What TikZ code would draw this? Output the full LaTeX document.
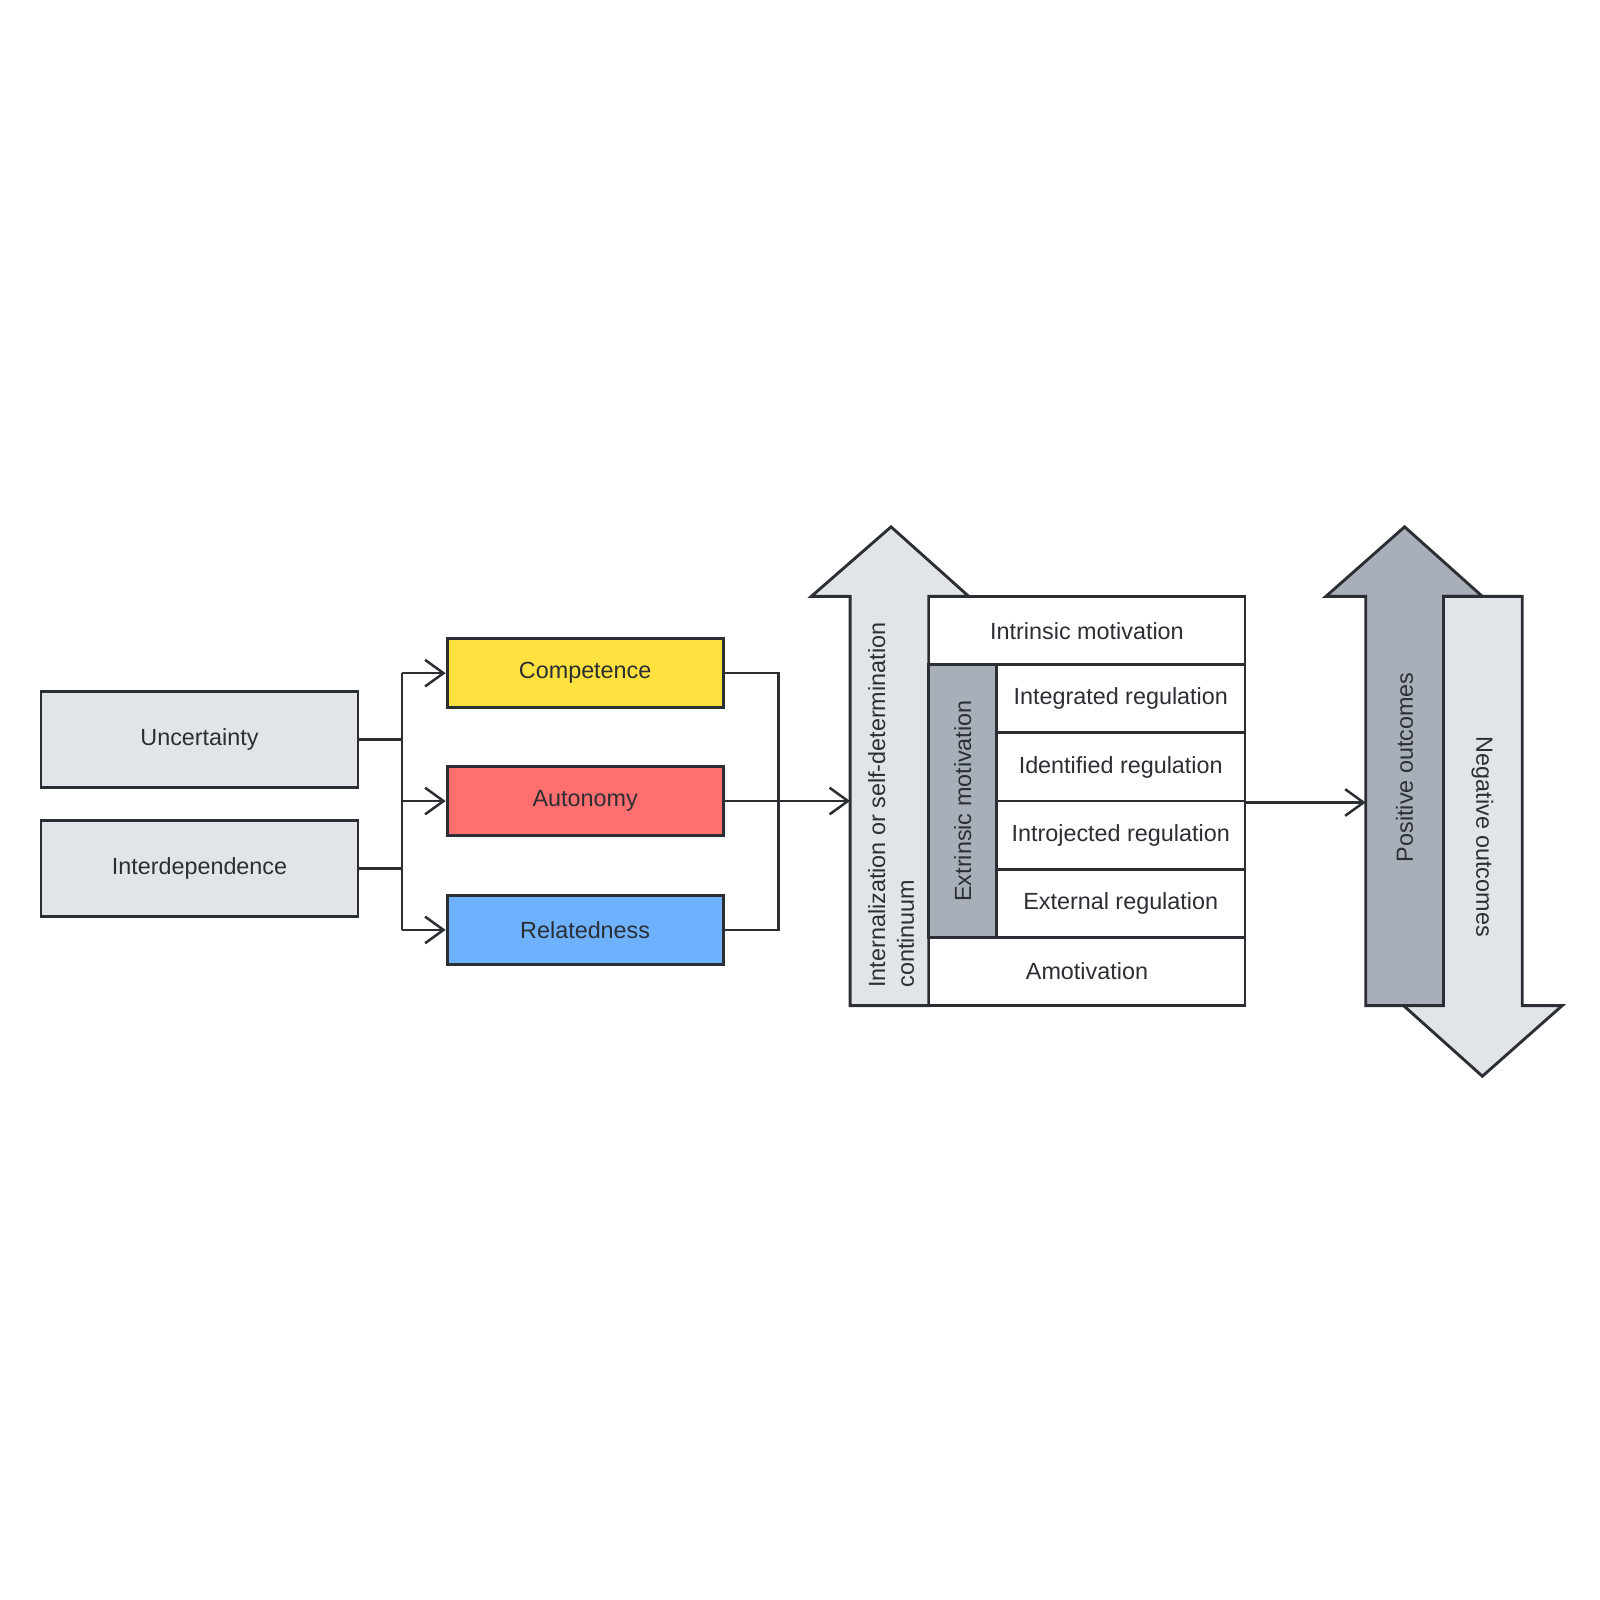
\documentclass[tikz,border=0pt]{standalone}
\usepackage{fontspec}
\setmainfont{Liberation Sans}
\usetikzlibrary{arrows.meta}
\definecolor{ink}{HTML}{2B2E33}
\definecolor{lightgrey}{HTML}{E1E4E8}
\definecolor{darkgrey}{HTML}{A9AFB8}
\definecolor{needyellow}{HTML}{FFE23F}
\definecolor{needred}{HTML}{FF6F6F}
\definecolor{needblue}{HTML}{6DB1FF}

\begin{document}
\begin{tikzpicture}[x=0.02cm,y=-0.02cm,
  box/.style={draw=ink,line width=1.6pt,inner sep=0pt,text=ink,font=\fontsize{13}{16}\selectfont},
  grey box/.style={box,fill=lightgrey,minimum width=6.2cm,minimum height=1.87cm},
  need box/.style={box,minimum width=5.4cm,minimum height=1.34cm},
  cell/.style={box,fill=white,minimum height=1.333cm},
  label/.style={text=ink,font=\fontsize{13}{16}\selectfont,align=center},
  link/.style={draw=ink,line width=1.4pt},
  tip/.style={-{Straight Barb[length=3.6mm,width=5.2mm]}},
  outline/.style={draw=ink,line width=1.6pt,line join=miter}]
\useasboundingbox (0,0) rectangle (1564,1564);

\node[grey box] (unc) at (195,723) {Uncertainty};
\node[grey box] (inter) at (195,849) {Interdependence};

\node[need box,fill=needyellow] (comp) at (572,658) {Competence};
\node[need box,fill=needred] (auto) at (572,783) {Autonomy};
\node[need box,fill=needblue] (rel) at (572,909) {Relatedness};

\coordinate (split) at (393,783);
\coordinate (merge) at (761,783);
\draw[link] (unc.east) -- (unc.east -| split);
\draw[link] (inter.east) -- (inter.east -| split);
\draw[link] (comp.west -| split) -- (rel.west -| split);
\foreach \n in {comp,auto,rel}
  \draw[link,tip] (\n.west -| split) -- (\n.west);
\draw[link] (comp.east) -- (comp.east -| merge) -- (rel.east -| merge) -- (rel.east);

% continuum arrow
\draw[outline,fill=lightgrey] (831,983) -- (831,583) -- (793,583) -- (871,515)
  -- (947,583) -- (908,583) -- (908,983) -- cycle;
\coordinate (cont) at (831,783);
\draw[link,tip] (auto.east) -- (cont);
\node[label,align=left,rotate=90] (contlabel) at (871,787) {Internalization or self-determination\\continuum};

% motivation table
\node[cell,minimum width=6.18cm] (intr) at (1062.5,616.5) {Intrinsic motivation};
\foreach \t [count=\i] in {Integrated regulation,Identified regulation,Introjected regulation,External regulation}
  \node[cell,minimum width=4.86cm] (reg\i) at (1095.5,{616.5+66.6*\i}) {\t};
\node[cell,minimum width=6.18cm] (amot) at (1062.5,949.5) {Amotivation};
\node[box,fill=darkgrey,rotate=90,minimum width=5.33cm,minimum height=1.32cm] (extr) at (941,783) {Extrinsic motivation};

% outcomes
\draw[outline,fill=darkgrey] (1335,983) -- (1335,583) -- (1296,583) -- (1373,515)
  -- (1449,583) -- (1411,583) -- (1411,983) -- cycle;
\draw[outline,fill=lightgrey] (1411,583) -- (1488,583) -- (1488,983) -- (1527,983)
  -- (1449,1052) -- (1372,983) -- (1411,983) -- cycle;
\node[label,rotate=90] (pos) at (1373,750) {Positive outcomes};
\node[label,rotate=-90] (neg) at (1449,818) {Negative outcomes};
\coordinate (outc) at (1335,785);
\draw[link,tip] (reg2.south east) -- (reg2.south east -| outc);
\end{tikzpicture}
\end{document}
